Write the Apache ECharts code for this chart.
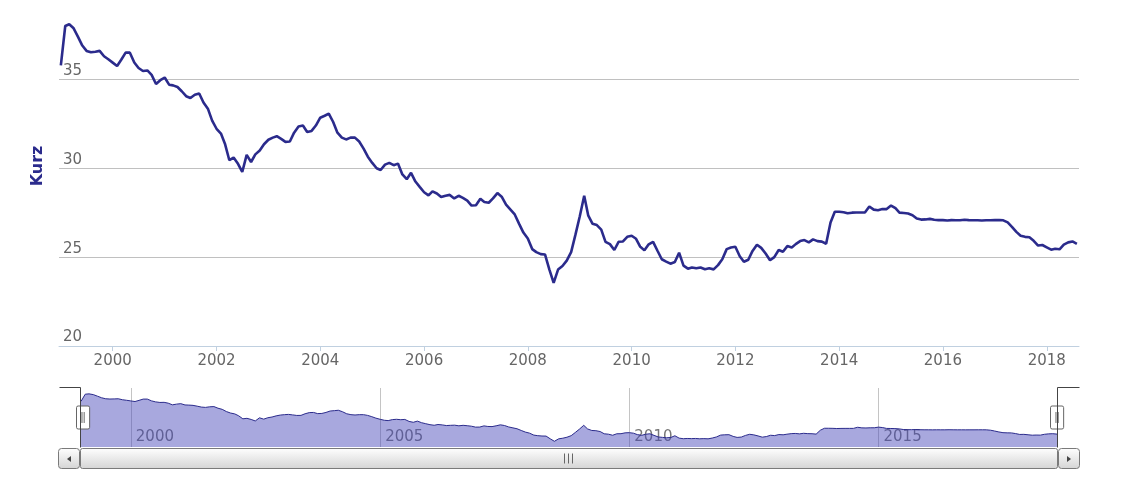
<!DOCTYPE html>
<html><head><meta charset="utf-8">
<script src="https://cdn.jsdelivr.net/npm/echarts@6/dist/echarts.min.js"></script>
<style>html,body{margin:0;padding:0;background:#fff}#c{width:1128px;height:486px}</style>
</head><body><div id="c"></div><script>
// Monthly EUR/CZK rate ("Kurz"), one array per year, starting January
const startYear = 1999;
const r1999 = [35.79, 38.0, 38.1, 37.87, 37.4, 36.9, 36.6, 36.52, 36.55, 36.6, 36.3, 36.13];
const r2000 = [35.94, 35.75, 36.1, 36.5, 36.5, 35.95, 35.64, 35.47, 35.5, 35.25, 34.74, 34.95];
const r2001 = [35.1, 34.7, 34.66, 34.57, 34.33, 34.05, 33.95, 34.13, 34.2, 33.7, 33.35, 32.68];
const r2002 = [32.22, 31.95, 31.38, 30.45, 30.6, 30.25, 29.79, 30.75, 30.35, 30.78, 31.0, 31.35];
const r2003 = [31.6, 31.72, 31.8, 31.65, 31.48, 31.5, 32.0, 32.35, 32.4, 32.04, 32.1, 32.4];
const r2004 = [32.84, 32.95, 33.07, 32.6, 32.0, 31.72, 31.62, 31.72, 31.72, 31.5, 31.1, 30.65];
const r2005 = [30.3, 30.0, 29.9, 30.2, 30.3, 30.17, 30.26, 29.65, 29.38, 29.74, 29.25, 28.95];
const r2006 = [28.65, 28.47, 28.7, 28.58, 28.38, 28.45, 28.5, 28.3, 28.45, 28.33, 28.18, 27.9];
const r2007 = [27.92, 28.28, 28.1, 28.06, 28.3, 28.6, 28.4, 27.95, 27.67, 27.4, 26.87, 26.38];
const r2008 = [26.05, 25.45, 25.28, 25.17, 25.15, 24.3, 23.55, 24.3, 24.5, 24.8, 25.28, 26.25];
const r2009 = [27.3, 28.45, 27.35, 26.87, 26.8, 26.55, 25.86, 25.73, 25.4, 25.86, 25.88, 26.14];
const r2010 = [26.2, 26.03, 25.6, 25.38, 25.72, 25.86, 25.37, 24.88, 24.75, 24.63, 24.72, 25.25];
const r2011 = [24.52, 24.35, 24.42, 24.37, 24.42, 24.32, 24.37, 24.31, 24.55, 24.88, 25.45, 25.54];
const r2012 = [25.58, 25.05, 24.74, 24.85, 25.35, 25.7, 25.52, 25.2, 24.82, 25.0, 25.4, 25.3];
const r2013 = [25.62, 25.54, 25.73, 25.9, 25.96, 25.83, 26.0, 25.9, 25.87, 25.75, 26.95, 27.55];
const r2014 = [27.55, 27.52, 27.47, 27.5, 27.51, 27.51, 27.51, 27.85, 27.67, 27.64, 27.7, 27.7];
const r2015 = [27.9, 27.75, 27.5, 27.48, 27.45, 27.36, 27.17, 27.11, 27.12, 27.15, 27.1, 27.08];
const r2016 = [27.08, 27.06, 27.08, 27.07, 27.07, 27.1, 27.08, 27.07, 27.07, 27.06, 27.07, 27.07];
const r2017 = [27.08, 27.08, 27.07, 26.95, 26.7, 26.42, 26.2, 26.14, 26.12, 25.92, 25.65, 25.68];
const r2018 = [25.55, 25.42, 25.47, 25.44, 25.7, 25.83, 25.88, 25.75];

const mainTickYears = [2000, 2002, 2004, 2006, 2008, 2010, 2012, 2014, 2016, 2018];
const navTickYears = [2000, 2005, 2010, 2015];
const yMin = 20, yMax = 38.9, yStep = 5;
const yTitle = 'Kurz';

const kurz = [].concat(r1999, r2000, r2001, r2002, r2003, r2004, r2005, r2006, r2007, r2008,
  r2009, r2010, r2011, r2012, r2013, r2014, r2015, r2016, r2017, r2018);
const points = kurz.map((v, i) => [Date.UTC(startYear, i, 1), v]);
const firstT = points[0][0], lastT = points[points.length - 1][0];

const LINE = '#2b2b8c';
const FONT = 'DejaVu Sans';
const yearFmt = v => String(new Date(v).getUTCFullYear());
const mainTicks = mainTickYears.map(y => Date.UTC(y, 0, 1));
const navTicks = navTickYears.map(y => Date.UTC(y, 0, 1));

const grad = () => new echarts.graphic.LinearGradient(0, 0, 0, 1, [
  {offset: 0, color: '#ffffff'}, {offset: 1, color: '#d4d4d4'}]);

const chart = echarts.init(document.getElementById('c'), null, {renderer: 'canvas'});
chart.setOption({
  animation: false,
  backgroundColor: '#ffffff',
  grid: [
    {left: 59, right: 49, top: 10, bottom: 140},
    {left: 81, right: 71, top: 388, height: 59}
  ],
  xAxis: [
    {
      type: 'value', gridIndex: 0,
      min: Date.UTC(1998, 11, 19), max: Date.UTC(2018, 7, 16),
      axisLine: {show: true, lineStyle: {color: '#C0D0E0', width: 1}},
      axisTick: {show: true, customValues: mainTicks, length: 5, lineStyle: {color: '#C0D0E0'}},
      axisLabel: {customValues: mainTicks, formatter: yearFmt, color: '#666', fontSize: 15, fontFamily: FONT, margin: 8},
      splitLine: {show: false}
    },
    {
      type: 'value', gridIndex: 1, min: firstT, max: lastT,
      axisLine: {show: false},
      axisTick: {show: true, inside: true, customValues: navTicks, length: 59, lineStyle: {color: '#c4c4c4'}},
      axisLabel: {customValues: navTicks, formatter: yearFmt, inside: true, align: 'left', verticalAlign: 'bottom',
        margin: 2, padding: [0, 0, 0, 5], color: '#777', fontSize: 15, fontFamily: FONT},
      splitLine: {show: false}
    }
  ],
  yAxis: [
    {
      type: 'value', gridIndex: 0, min: yMin, max: yMax, interval: yStep,
      name: yTitle, nameLocation: 'middle', nameGap: 13,
      nameTextStyle: {color: LINE, fontWeight: 'bold', fontSize: 16, fontFamily: FONT, padding: [0, 0, 0, 24]},
      axisLine: {show: false}, axisTick: {show: false},
      axisLabel: {inside: true, showMaxLabel: false, margin: 4, verticalAlign: 'bottom', padding: [0, 0, 1, 0],
        color: '#666', fontSize: 15, fontFamily: FONT},
      splitLine: {show: true, showMaxLine: false, lineStyle: {color: '#C0C0C0', width: 1}}
    },
    {
      type: 'value', gridIndex: 1, min: 21.8, max: 39.9, show: false,
      splitLine: {show: false}
    }
  ],
  dataZoom: [{
    type: 'slider', xAxisIndex: 0, filterMode: 'none', start: 0, end: 100,
    left: 81, right: 71, top: 388, height: 59,
    showDataShadow: false, showDetail: false, brushSelect: false, moveHandleSize: 0,
    backgroundColor: 'rgba(0,0,0,0)', borderColor: 'rgba(0,0,0,0)', fillerColor: 'rgba(0,0,0,0)',
    handleIcon: 'path://M2,0.5 H11 A1.5,1.5 0 0 1 12.5,2 V20 A1.5,1.5 0 0 1 11,21.5 H2 A1.5,1.5 0 0 1 0.5,20 V2 A1.5,1.5 0 0 1 2,0.5 Z M5.5,6 V16 M7.5,6 V16',
    handleSize: 23,
    handleStyle: {color: '#ffffff', borderColor: '#666', borderWidth: 1},
    emphasis: {handleStyle: {color: '#ffffff', borderColor: '#666', borderWidth: 1}},
    z: 10
  }],
  series: [
    {
      type: 'line', xAxisIndex: 0, yAxisIndex: 0, data: points,
      showSymbol: false, symbol: 'none',
      lineStyle: {color: LINE, width: 2.6}, itemStyle: {color: LINE}
    },
    {
      type: 'line', xAxisIndex: 1, yAxisIndex: 1, data: points,
      showSymbol: false, symbol: 'none',
      lineStyle: {color: LINE, width: 1}, itemStyle: {color: LINE},
      areaStyle: {color: 'rgba(70,70,185,0.47)', opacity: 1, origin: 'start'}
    }
  ],
  graphic: [
    {type: 'polyline', z: 100, shape: {points: [[59.5, 387.5], [80.5, 387.5], [80.5, 447.5]]},
      style: {stroke: '#444', lineWidth: 1, fill: null}},
    {type: 'polyline', z: 100, shape: {points: [[1057.5, 447.5], [1057.5, 387.5], [1079.5, 387.5]]},
      style: {stroke: '#444', lineWidth: 1, fill: null}},
    {type: 'rect', z: 100, shape: {x: 80.5, y: 448.5, width: 977, height: 20, r: 2},
      style: {fill: grad(), stroke: '#7a7a7a', lineWidth: 1}},
    {type: 'rect', z: 100, shape: {x: 58.5, y: 448.5, width: 21, height: 20, r: 3},
      style: {fill: grad(), stroke: '#7a7a7a', lineWidth: 1}},
    {type: 'polygon', z: 101, shape: {points: [[67, 459], [71, 456], [71, 462]]}, style: {fill: '#444'}},
    {type: 'rect', z: 100, shape: {x: 1058.5, y: 448.5, width: 21, height: 20, r: 3},
      style: {fill: grad(), stroke: '#7a7a7a', lineWidth: 1}},
    {type: 'polygon', z: 101, shape: {points: [[1071, 459], [1067, 456], [1067, 462]]}, style: {fill: '#444'}},
    {type: 'line', z: 101, shape: {x1: 564.5, y1: 453.5, x2: 564.5, y2: 463.5}, style: {stroke: '#666', lineWidth: 1}},
    {type: 'line', z: 101, shape: {x1: 568.5, y1: 453.5, x2: 568.5, y2: 463.5}, style: {stroke: '#666', lineWidth: 1}},
    {type: 'line', z: 101, shape: {x1: 572.5, y1: 453.5, x2: 572.5, y2: 463.5}, style: {stroke: '#666', lineWidth: 1}}
  ]
});
</script></body></html>
